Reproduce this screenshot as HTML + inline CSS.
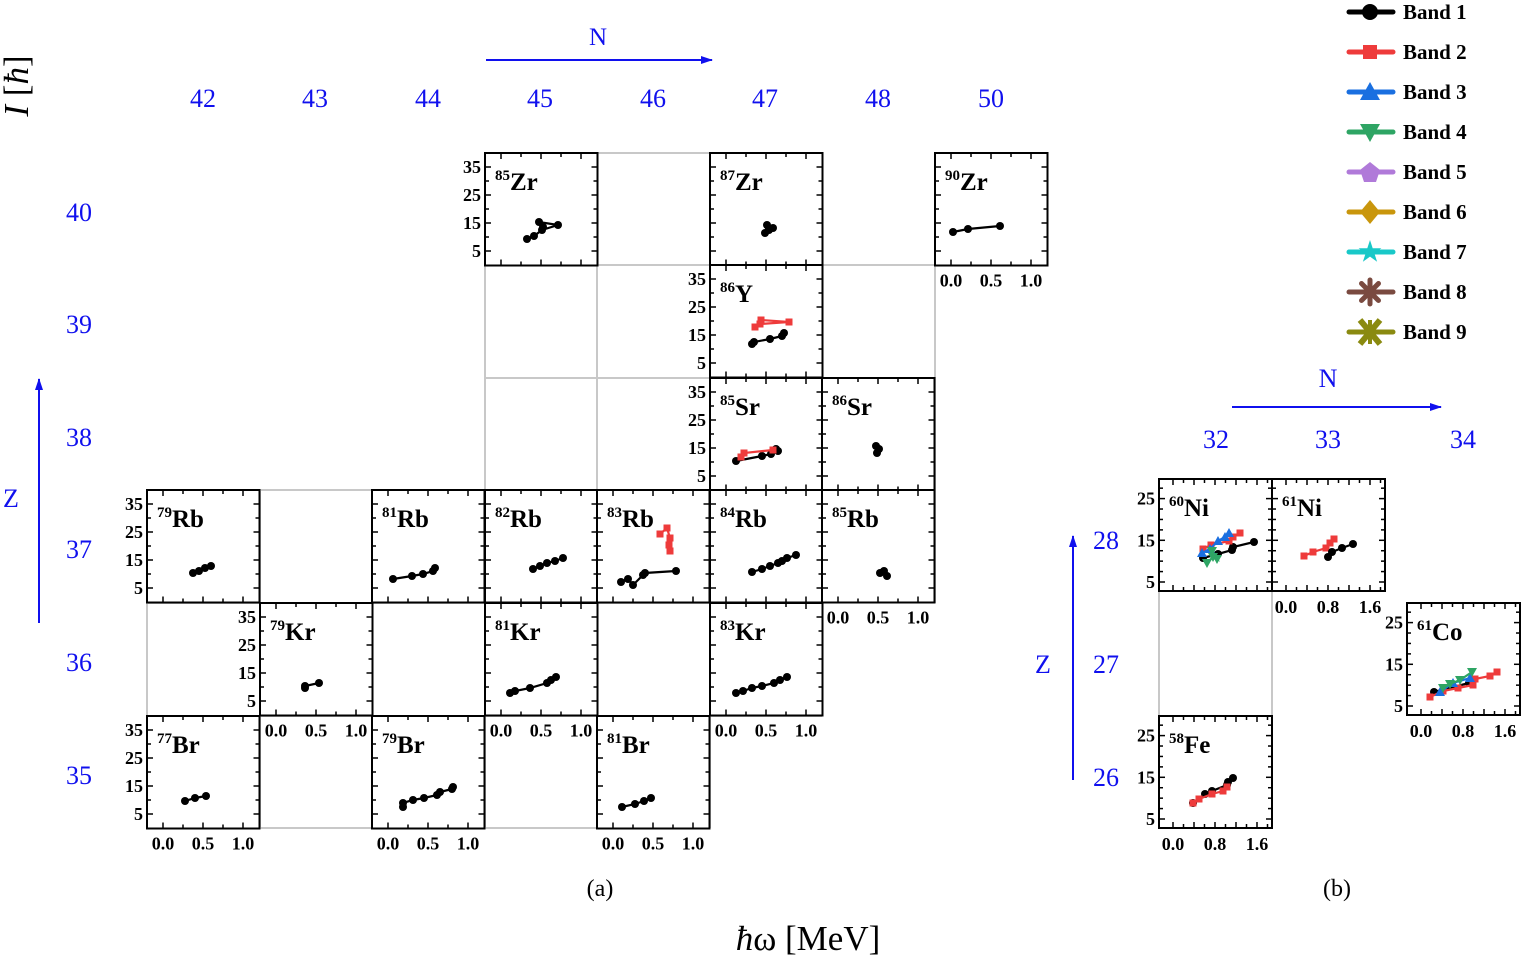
<!DOCTYPE html>
<html><head><meta charset="utf-8">
<style>
html,body{margin:0;padding:0;background:#fff;}
svg{display:block;font-family:"Liberation Serif",serif;}
</style></head>
<body>
<svg id="s" width="1521" height="956" xmlns="http://www.w3.org/2000/svg">
<defs>
<marker id="ah" markerWidth="12" markerHeight="8" refX="11" refY="4" orient="auto" markerUnits="userSpaceOnUse"><path d="M0,0 L12,4 L0,8 z" fill="#1010ee"/></marker>
</defs>
<g id="grid" stroke="#c8c8c8" stroke-width="2" fill="none"></g>
<g id="panels"></g>
<line x1="486" y1="60" x2="712" y2="60" stroke="#1010ee" stroke-width="2" marker-end="url(#ah)"/>
<text x="598" y="45" font-size="25" fill="#1010ee" text-anchor="middle">N</text>
<g font-size="26" fill="#1010ee" text-anchor="middle">
<text x="203" y="107">42</text><text x="315" y="107">43</text><text x="428" y="107">44</text><text x="540" y="107">45</text><text x="653" y="107">46</text><text x="765" y="107">47</text><text x="878" y="107">48</text><text x="991" y="107">50</text>
<text x="79" y="221">40</text><text x="79" y="333">39</text><text x="79" y="446">38</text><text x="79" y="558">37</text><text x="79" y="671">36</text><text x="79" y="784">35</text>
</g>
<line x1="39" y1="623" x2="39" y2="379" stroke="#1010ee" stroke-width="2" marker-end="url(#ah)"/>
<text x="11" y="507" font-size="26" fill="#1010ee" text-anchor="middle">Z</text>
<text transform="translate(28,86) rotate(-90)" font-size="35" text-anchor="middle"><tspan font-style="italic">I</tspan> [<tspan font-style="italic">ħ</tspan>]</text>
<text x="808" y="950" font-size="35" text-anchor="middle"><tspan font-style="italic">ħ</tspan>ω [MeV]</text>
<text x="600" y="896" font-size="24" text-anchor="middle">(a)</text>
<text x="1337" y="896" font-size="24" text-anchor="middle">(b)</text>
<line x1="1232" y1="407" x2="1441" y2="407" stroke="#1010ee" stroke-width="2" marker-end="url(#ah)"/>
<text x="1328" y="387" font-size="26" fill="#1010ee" text-anchor="middle">N</text>
<g font-size="26" fill="#1010ee" text-anchor="middle">
<text x="1216" y="448">32</text><text x="1328" y="448">33</text><text x="1463" y="448">34</text>
<text x="1106" y="549">28</text><text x="1106" y="673">27</text><text x="1106" y="786">26</text>
<text x="1043" y="673">Z</text>
</g>
<line x1="1073" y1="780" x2="1073" y2="536" stroke="#1010ee" stroke-width="2" marker-end="url(#ah)"/>
<g id="legend"></g>
</svg>
<script>
var NS="http://www.w3.org/2000/svg";
var P=document.getElementById('panels'),G=document.getElementById('grid'),L=document.getElementById('legend');
function el(t,a,p,txt){var e=document.createElementNS(NS,t);for(var k in a)e.setAttribute(k,a[k]);if(txt!==undefined)e.textContent=txt;(p||P).appendChild(e);return e;}
var COL={1:'#000',2:'#ee3b3b',3:'#1a6fe0',4:'#2ea564',5:'#b07ad9',6:'#c9960c',7:'#19c8c8',8:'#7a4a40',9:'#8a8a10'};
function marker(b,x,y,p,s){s=s||1;var c=COL[b];
 if(b==1)el('circle',{cx:x,cy:y,r:4*s,fill:c},p);
 else if(b==2)el('rect',{x:x-3.5*s,y:y-3.5*s,width:7*s,height:7*s,fill:c},p);
 else if(b==3)el('path',{d:'M'+x+','+(y-5*s)+' L'+(x+5*s)+','+(y+4*s)+' L'+(x-5*s)+','+(y+4*s)+'z',fill:c},p);
 else if(b==4)el('path',{d:'M'+x+','+(y+5*s)+' L'+(x+5*s)+','+(y-4*s)+' L'+(x-5*s)+','+(y-4*s)+'z',fill:c},p);
 else if(b==5)el('path',{d:'M'+x+','+(y-5*s)+' L'+(x+5*s)+','+(y-1*s)+' L'+(x+3*s)+','+(y+5*s)+' L'+(x-3*s)+','+(y+5*s)+' L'+(x-5*s)+','+(y-1*s)+'z',fill:c},p);
 else if(b==6)el('path',{d:'M'+x+','+(y-6*s)+' L'+(x+5*s)+','+y+' L'+x+','+(y+6*s)+' L'+(x-5*s)+','+y+'z',fill:c},p);
 else if(b==7){var d='';for(var i=0;i<10;i++){var r=(i%2?2.3:6)*s,a=-Math.PI/2+i*Math.PI/5;d+=(i?'L':'M')+(x+r*Math.cos(a)).toFixed(1)+','+(y+r*Math.sin(a)).toFixed(1);}el('path',{d:d+'z',fill:c},p);}
 else if(b==8){for(var i=0;i<4;i++){var a=i*Math.PI/4;el('line',{x1:x-6*s*Math.cos(a),y1:y-6*s*Math.sin(a),x2:x+6*s*Math.cos(a),y2:y+6*s*Math.sin(a),stroke:c,'stroke-width':2.5*s,'stroke-linecap':'round'},p);}}
 else if(b==9){el('line',{x1:x-5*s,y1:y-6*s,x2:x+5*s,y2:y+6*s,stroke:c,'stroke-width':3*s},p);el('line',{x1:x+5*s,y1:y-6*s,x2:x-5*s,y2:y+6*s,stroke:c,'stroke-width':3*s},p);el('line',{x1:x,y1:y-6*s,x2:x,y2:y+6*s,stroke:c,'stroke-width':2*s},p);}
}
function series(b,pts){var d=pts.map(function(q){return q.join(',')}).join(' ');
 el('polyline',{points:d,fill:'none',stroke:COL[b],'stroke-width':2.2});
 pts.forEach(function(q){marker(b,q[0],q[1],P,1.0);});}
function label(x0,y0,m,e){var t=el('text',{x:x0+10,y:y0+37,'font-weight':'bold'});
 el('tspan',{'font-size':15,dy:-10},t,m);el('tspan',{'font-size':25,dy:10},t,e);}
function pa(x0,y0,m,e,yl,xl){var w=112.5;
 el('rect',{x:x0,y:y0,width:w,height:w,fill:'#fff',stroke:'#000','stroke-width':2});
 for(var v=0;v<=1.2;v+=0.25){var x=x0+16+80*v;var L=(Math.abs(v*2-Math.round(v*2))<0.01)?6:4;
  el('line',{x1:x,y1:y0+w,x2:x,y2:y0+w-L,stroke:'#000','stroke-width':1.5});el('line',{x1:x,y1:y0,x2:x,y2:y0+L,stroke:'#000','stroke-width':1.5});}
 for(var I=5;I<=35;I+=5){var y=y0+14+(35-I)*2.8;var L=(I%10==5)?6:4;
  el('line',{x1:x0,y1:y,x2:x0+L,y2:y,stroke:'#000','stroke-width':1.5});el('line',{x1:x0+w,y1:y,x2:x0+w-L,y2:y,stroke:'#000','stroke-width':1.5});}
 if(yl)[35,25,15,5].forEach(function(I){el('text',{x:x0-4,y:y0+14+(35-I)*2.8+6,'font-size':18,'font-weight':'bold','text-anchor':'end'},P,''+I);});
 if(xl)['0.0','0.5','1.0'].forEach(function(s,i){el('text',{x:x0+16+40*i,y:y0+w+21,'font-size':18,'font-weight':'bold','text-anchor':'middle'},P,s);});
 label(x0,y0,m,e);}
function pb(x0,y0,m,e,yl,xl){var w=113;
 el('rect',{x:x0,y:y0,width:w,height:w-1,fill:'#fff',stroke:'#000','stroke-width':2});
 for(var v=0;v<=1.85;v+=0.2){var x=x0+14+52.5*v;if(x>x0+w-2)break;var L=(Math.abs(v/0.4-Math.round(v/0.4))<0.01)?6:4;
  el('line',{x1:x,y1:y0+w-1,x2:x,y2:y0+w-1-L,stroke:'#000','stroke-width':1.5});el('line',{x1:x,y1:y0,x2:x,y2:y0+L,stroke:'#000','stroke-width':1.5});}
 for(var I=5;I<=27.5;I+=2.5){var y=y0+103-(I-5)*4.17;var L=(I%10==5)?6:4;
  el('line',{x1:x0,y1:y,x2:x0+L,y2:y,stroke:'#000','stroke-width':1.5});el('line',{x1:x0+w,y1:y,x2:x0+w-L,y2:y,stroke:'#000','stroke-width':1.5});}
 if(yl)[25,15,5].forEach(function(I){el('text',{x:x0-4,y:y0+103-(I-5)*4.17+6,'font-size':18,'font-weight':'bold','text-anchor':'end'},P,''+I);});
 if(xl)['0.0','0.8','1.6'].forEach(function(s,i){el('text',{x:x0+14+42*i,y:y0+w+21,'font-size':18,'font-weight':'bold','text-anchor':'middle'},P,s);});
 label(x0,y0,m,e);}
[[597,153,710,153],[485,265,935,265],[485,378,935,378],[147,490,935,490],[147,603,822,603],[147,716,822,716],[147,828,710,828],
 [147,490,147,828],[260,490,260,828],[372,490,372,828],[485,153,485,828],[597,153,597,828],[710,153,710,828],[822,153,822,716],[935,153,935,603],
 [1159,591,1159,716],[1272,591,1272,716]].forEach(function(a){el('line',{x1:a[0],y1:a[1],x2:a[2],y2:a[3]},G);});
var cx=[147,260,372,485,597,710,822,935],ry=[153,265,378,490,603,716];
pa(cx[3],ry[0],'85','Zr',1,0);series(1,[[527,239],[534,236],[542,230],[558,225],[539,222],[543,227]]);
pa(cx[5],ry[0],'87','Zr',0,0);series(1,[[765,233],[767,225],[773,228],[769,230]]);
pa(cx[7],ry[0],'90','Zr',0,1);series(1,[[953,232],[968,229],[1000,226]]);
pa(cx[5],ry[1],'86','Y',1,0);series(1,[[752,344],[754,342],[770,339],[782,336],[784,333]]);series(2,[[755,327],[761,320],[789,322],[760,324]]);
pa(cx[5],ry[2],'85','Sr',1,0);series(1,[[736,461],[762,456],[771,454],[776,449],[778,451]]);series(2,[[741,457],[744,453],[773,450]]);
pa(cx[6],ry[2],'86','Sr',0,0);series(1,[[876,446],[877,453],[879,449]]);
pa(cx[0],ry[3],'79','Rb',1,0);series(1,[[193,573],[199,571],[205,568],[211,566]]);
pa(cx[2],ry[3],'81','Rb',0,0);series(1,[[393,579],[412,576],[423,574],[433,571],[435,568]]);
pa(cx[3],ry[3],'82','Rb',0,0);series(1,[[533,569],[540,566],[547,563],[555,561],[563,558]]);
pa(cx[4],ry[3],'83','Rb',0,0);series(1,[[621,582],[628,579],[633,585],[643,575],[645,573],[676,571]]);series(2,[[660,534],[667,528],[670,538],[669,545],[670,551]]);
pa(cx[5],ry[3],'84','Rb',0,0);series(1,[[752,572],[762,569],[770,566],[778,563],[782,561],[787,558],[796,555]]);
pa(cx[6],ry[3],'85','Rb',0,1);series(1,[[880,573],[884,571],[887,576]]);
pa(cx[1],ry[4],'79','Kr',1,1);series(1,[[305,688],[305,686],[319,683]]);
pa(cx[3],ry[4],'81','Kr',0,1);series(1,[[510,693],[515,691],[530,688],[547,683],[551,680],[556,677]]);
pa(cx[5],ry[4],'83','Kr',0,1);series(1,[[736,693],[743,691],[752,688],[762,686],[774,683],[780,680],[787,677]]);
pa(cx[0],ry[5],'77','Br',1,1);series(1,[[185,801],[195,798],[206,796]]);
pa(cx[2],ry[5],'79','Br',0,1);series(1,[[403,807],[403,803],[413,800],[424,798],[437,795],[440,792],[452,789],[453,787]]);
pa(cx[4],ry[5],'81','Br',0,1);series(1,[[622,807],[635,804],[644,801],[651,798]]);
pb(1159,479,'60','Ni',1,0);
series(1,[[1203,558],[1218,554],[1232,550],[1233,547],[1254,542]]);
series(2,[[1203,549],[1211,545],[1229,541],[1233,537],[1240,533]]);
series(3,[[1202,553],[1210,549],[1218,541],[1225,537],[1229,533]]);
series(4,[[1207,563],[1213,557],[1217,559],[1212,551]]);
pb(1272,479,'61','Ni',0,1);
series(2,[[1304,556],[1313,552],[1326,548],[1330,543],[1334,539]]);
series(1,[[1328,557],[1332,552],[1342,548],[1353,544]]);
pb(1407,603,'61','Co',1,1);
series(1,[[1434,692],[1469,683]]);
series(2,[[1430,697],[1443,691],[1458,688],[1473,685],[1475,679],[1490,676],[1497,672]]);
series(3,[[1440,692],[1453,683],[1470,678]]);
series(4,[[1443,688],[1450,684],[1460,680],[1472,672]]);
pb(1159,716,'58','Fe',1,1);
series(1,[[1193,803],[1205,794],[1212,791],[1227,785],[1228,782],[1233,778]]);
series(2,[[1193,803],[1199,799],[1212,794],[1223,791],[1227,787]]);
for(var b=1;b<=9;b++){var y=12+(b-1)*40;
 el('line',{x1:1349,y1:y,x2:1393,y2:y,stroke:COL[b],'stroke-width':5,'stroke-linecap':'round'},L);
 marker(b,1370,y,L,2);
 el('text',{x:1403,y:y+7,'font-size':21,'font-weight':'bold'},L,'Band '+b);}
</script>
</body></html>
